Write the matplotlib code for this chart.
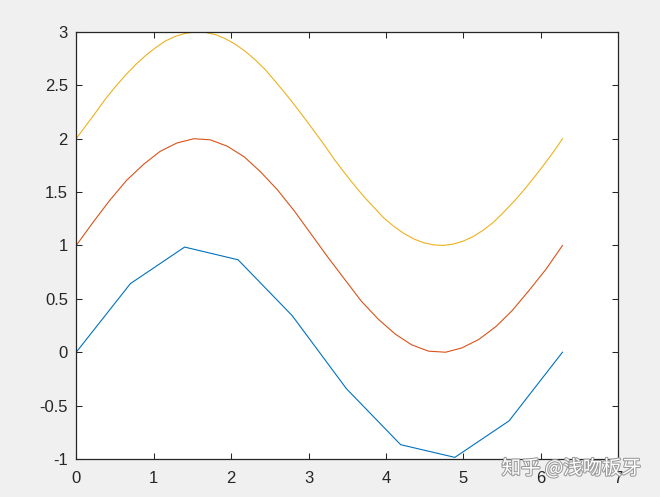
import matplotlib

matplotlib.use("Agg")
import matplotlib.pyplot as plt
import matplotlib.patheffects as pe

# blue: 10 samples of sin(x)
x_blue = [0.0, 0.70, 1.40, 2.09, 2.79, 3.49, 4.19, 4.89, 5.59, 6.28]
y_blue = [0.0, 0.643, 0.985, 0.866, 0.342, -0.342, -0.866, -0.985, -0.643, 0.0]

# red: 30 samples of 1 + sin(x)
x_red = [0.0, 0.22, 0.43, 0.65, 0.87, 1.08, 1.30, 1.52, 1.73, 1.95,
         2.17, 2.38, 2.60, 2.82, 3.03, 3.25, 3.47, 3.68, 3.90, 4.12,
         4.33, 4.55, 4.77, 4.98, 5.20, 5.42, 5.63, 5.85, 6.07, 6.28]
y_red = [1.00, 1.22, 1.42, 1.61, 1.76, 1.88, 1.96, 2.00, 1.99, 1.93,
         1.83, 1.69, 1.52, 1.32, 1.11, 0.89, 0.68, 0.48, 0.31, 0.17,
         0.07, 0.01, 0.00, 0.04, 0.12, 0.24, 0.39, 0.58, 0.78, 1.00]

# yellow: smooth 2 + sin(x)
x_yellow = [0.0, 0.13, 0.26, 0.38, 0.51, 0.64, 0.77, 0.90, 1.03, 1.15,
            1.28, 1.41, 1.54, 1.67, 1.80, 1.92, 2.05, 2.18, 2.31, 2.44,
            2.56, 2.69, 2.82, 2.95, 3.08, 3.21, 3.33, 3.46, 3.59, 3.72,
            3.85, 3.97, 4.10, 4.23, 4.36, 4.49, 4.62, 4.74, 4.87, 5.00,
            5.13, 5.26, 5.39, 5.51, 5.64, 5.77, 5.90, 6.03, 6.16, 6.28]
y_yellow = [2.000, 2.128, 2.254, 2.375, 2.491, 2.598, 2.696, 2.782, 2.855, 2.915,
            2.959, 2.987, 3.000, 2.995, 2.975, 2.939, 2.887, 2.820, 2.740, 2.648,
            2.546, 2.434, 2.315, 2.191, 2.064, 1.936, 1.809, 1.685, 1.566, 1.454,
            1.352, 1.260, 1.180, 1.113, 1.061, 1.025, 1.005, 1.000, 1.013, 1.041,
            1.085, 1.145, 1.218, 1.304, 1.402, 1.509, 1.625, 1.746, 1.872, 2.000]

x_ticks = [0, 1, 2, 3, 4, 5, 6, 7]
y_ticks = [-1, -0.5, 0, 0.5, 1, 1.5, 2, 2.5, 3]
y_tick_labels = ["-1", "-0.5", "0", "0.5", "1", "1.5", "2", "2.5", "3"]

plt.rcParams["font.family"] = ["Liberation Sans", "DejaVu Sans"]

fig = plt.figure(figsize=(6.6, 4.97), dpi=100, facecolor="#f0f0f0")
ax = fig.add_axes([0.1155, 0.0765, 0.8212, 0.8592])
ax.set_facecolor("white")

ax.plot(x_blue, y_blue, color="#0072BD", linewidth=0.8)
ax.plot(x_red, y_red, color="#D95319", linewidth=0.8)
ax.plot(x_yellow, y_yellow, color="#EDB120", linewidth=0.8)

ax.set_xlim(0, 7)
ax.set_ylim(-1, 3)
ax.set_xticks(x_ticks)
ax.set_xticklabels([str(t) for t in x_ticks])
ax.set_yticks(y_ticks)
ax.set_yticklabels(y_tick_labels)
ax.tick_params(direction="in", length=4, width=0.75, colors="#262626",
               labelsize=12, top=True, right=True)
ax.tick_params(axis="x", pad=9)
ax.tick_params(axis="y", pad=6)
for spine in ax.spines.values():
    spine.set_color("#262626")
    spine.set_linewidth(0.9)

# watermark in the lower right corner
fig.text(0.866, 0.057, "知乎 @浅吻板牙", family=["Noto Sans CJK SC", "DejaVu Sans"],
         fontsize=14, color="white", ha="center", va="center", zorder=5,
         path_effects=[pe.withStroke(linewidth=1.5, foreground="#9a9a9a")])

fig.savefig("out.png", dpi=100, facecolor=fig.get_facecolor())
